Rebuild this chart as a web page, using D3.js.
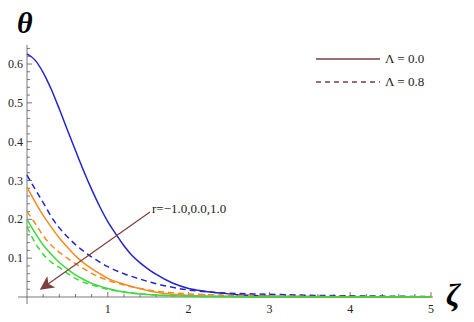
<!DOCTYPE html>
<html>
<head>
<meta charset="utf-8">
<script src="https://cdn.jsdelivr.net/npm/d3@7"></script>
<style>
  body { margin: 0; background: #fff; }
  svg { display: block; }
  text { font-family: "Liberation Serif", "Times New Roman", Times, serif; fill: #222; }
</style>
</head>
<body>
<svg id="chart" width="474" height="322"></svg>
<script>
// theta(zeta), r = -1.0 (blue), 0.0 (orange), 1.0 (green)
var zeta_blue_solid  = [0, 0.1, 0.2, 0.3, 0.4, 0.5, 0.6, 0.7, 0.8, 0.9, 1.0, 1.1, 1.2, 1.3, 1.4, 1.5, 1.6, 1.8, 2.0, 2.2, 2.4, 2.6, 2.8, 3.0, 3.5, 4.0, 5.0];
var theta_blue_solid = [0.626, 0.61, 0.578, 0.535, 0.484, 0.43, 0.377, 0.325, 0.277, 0.233, 0.194, 0.162, 0.132, 0.107, 0.088, 0.072, 0.058, 0.036, 0.022, 0.015, 0.01, 0.006, 0.004, 0.002, 0.001, 0, 0];

var zeta_blue_dash  = [0, 0.1, 0.2, 0.3, 0.4, 0.5, 0.6, 0.7, 0.8, 0.9, 1.0, 1.2, 1.4, 1.6, 1.8, 2.0, 2.4, 2.8, 3.2, 3.6, 4.0, 4.5, 5.0];
var theta_blue_dash = [0.314, 0.278, 0.243, 0.207, 0.178, 0.155, 0.135, 0.118, 0.103, 0.09, 0.078, 0.06, 0.046, 0.034, 0.025, 0.018, 0.011, 0.008, 0.006, 0.004, 0.003, 0.002, 0.001];

var zeta_orange_solid  = [0, 0.1, 0.2, 0.3, 0.4, 0.5, 0.6, 0.7, 0.8, 0.9, 1.0, 1.2, 1.4, 1.6, 1.8, 2.0, 2.5, 3.0, 5.0];
var theta_orange_solid = [0.283, 0.245, 0.21, 0.18, 0.152, 0.128, 0.106, 0.088, 0.073, 0.06, 0.048, 0.033, 0.021, 0.012, 0.007, 0.004, 0.001, 0, 0];

var zeta_orange_dash  = [0, 0.1, 0.2, 0.3, 0.4, 0.5, 0.6, 0.7, 0.8, 0.9, 1.0, 1.2, 1.4, 1.6, 1.8, 2.0, 2.4, 2.8, 3.2, 4.0, 5.0];
var theta_orange_dash = [0.22, 0.19, 0.158, 0.133, 0.115, 0.1, 0.086, 0.073, 0.061, 0.051, 0.043, 0.031, 0.022, 0.015, 0.011, 0.008, 0.005, 0.003, 0.002, 0.001, 0];

var zeta_green_solid  = [0, 0.1, 0.2, 0.3, 0.4, 0.5, 0.6, 0.7, 0.8, 0.9, 1.0, 1.2, 1.4, 1.6, 1.8, 2.0, 2.5, 3.0, 5.0];
var theta_green_solid = [0.2, 0.165, 0.134, 0.11, 0.089, 0.072, 0.057, 0.045, 0.035, 0.028, 0.022, 0.013, 0.008, 0.005, 0.003, 0.002, 0.001, 0, 0];

var zeta_green_dash  = [0, 0.1, 0.2, 0.3, 0.4, 0.5, 0.6, 0.7, 0.8, 0.9, 1.0, 1.2, 1.4, 1.6, 1.8, 2.0, 2.5, 3.0, 5.0];
var theta_green_dash = [0.18, 0.14, 0.11, 0.09, 0.076, 0.061, 0.048, 0.038, 0.031, 0.025, 0.02, 0.013, 0.008, 0.005, 0.003, 0.002, 0.001, 0, 0];

var x_ticks = [1, 2, 3, 4, 5];
var y_ticks = [0.1, 0.2, 0.3, 0.4, 0.5, 0.6];
var legend_labels = ['\u039B = 0.0', '\u039B = 0.8'];
var arrow_label = 'r=\u22121.0,0.0,1.0';

/**************************************************************************************/

var svg = d3.select('#chart');
var x = d3.scaleLinear().domain([0, 5]).range([27, 431]);
var y = d3.scaleLinear().domain([0, 0.6]).range([297, 64]);

var blue = '#2424cc', orange = '#f28a26', green = '#3cd83c', brown = '#7d3e3e';

// minor ticks every 0.2 on x and 0.02 on y
var x_minor = d3.range(0.2, 5.01, 0.2);
var y_minor = d3.range(0.02, 0.641, 0.02);

var axes = svg.append('g').attr('stroke', '#555').attr('stroke-width', 0.8);
axes.append('line').attr('x1', 18).attr('x2', 433).attr('y1', y(0)).attr('y2', y(0));
axes.append('line').attr('x1', x(0)).attr('x2', x(0)).attr('y1', 45).attr('y2', 304);

axes.selectAll('.xt').data(x_minor).enter().append('line')
    .attr('x1', function(d){ return x(d); }).attr('x2', function(d){ return x(d); })
    .attr('y1', y(0)).attr('y2', function(d){ return Math.abs(d - Math.round(d)) < 1e-6 ? y(0) - 5 : y(0) - 3; });

axes.selectAll('.yt').data(y_minor).enter().append('line')
    .attr('y1', function(d){ return y(d); }).attr('y2', function(d){ return y(d); })
    .attr('x1', x(0)).attr('x2', function(d){ return Math.abs(d*10 - Math.round(d*10)) < 1e-6 ? x(0) + 5 : x(0) + 3; });

svg.selectAll('.xl').data(x_ticks).enter().append('text')
    .attr('x', function(d){ return x(d); }).attr('y', 313)
    .attr('text-anchor', 'middle').attr('font-size', 12)
    .text(function(d){ return d; });

svg.selectAll('.yl').data(y_ticks).enter().append('text')
    .attr('x', 23).attr('y', function(d){ return y(d) + 4; })
    .attr('text-anchor', 'end').attr('font-size', 12)
    .text(function(d){ return d.toFixed(1); });

svg.append('text').attr('x', 17).attr('y', 33)
    .attr('font-size', 30).attr('font-weight', 'bold').attr('font-style', 'italic')
    .style('fill', '#000')
    .text('\u03B8');
svg.append('text').attr('x', 446).attr('y', 306)
    .attr('font-size', 32).attr('font-weight', 'bold').attr('font-style', 'italic')
    .style('fill', '#000')
    .text('\u03B6');

/**************************************************************************************/

var line = d3.line()
    .x(function(d){ return x(d[0]); })
    .y(function(d){ return y(d[1]); })
    .curve(d3.curveMonotoneX);

var curves = [
    { zx: zeta_blue_solid,   zy: theta_blue_solid,   color: blue,   dash: null },
    { zx: zeta_blue_dash,    zy: theta_blue_dash,    color: blue,   dash: '6,4' },
    { zx: zeta_orange_solid, zy: theta_orange_solid, color: orange, dash: null },
    { zx: zeta_orange_dash,  zy: theta_orange_dash,  color: orange, dash: '6,4' },
    { zx: zeta_green_solid,  zy: theta_green_solid,  color: green,  dash: null },
    { zx: zeta_green_dash,   zy: theta_green_dash,   color: green,  dash: '6,4' }
];

curves.forEach(function(c){
    var pts = c.zx.map(function(v, i){ return [v, c.zy[i]]; });
    svg.append('path')
        .attr('d', line(pts))
        .attr('fill', 'none').attr('stroke', c.color).attr('stroke-width', 1.5)
        .attr('stroke-dasharray', c.dash);
});

/**************************************************************************************/

// arrow
var defs = svg.append('defs');
defs.append('marker').attr('id', 'head')
    .attr('viewBox', '0 0 10 10').attr('refX', 9).attr('refY', 5)
    .attr('markerWidth', 17).attr('markerHeight', 14).attr('markerUnits', 'userSpaceOnUse')
    .attr('orient', 'auto')
    .append('path').attr('d', 'M 0 0 L 10 5 L 0 10 L 2.5 5 z').attr('fill', brown);

svg.append('line').attr('x1', 150).attr('y1', 212).attr('x2', 41).attr('y2', 289)
    .attr('stroke', brown).attr('stroke-width', 1.2).attr('marker-end', 'url(#head)');

svg.append('text').attr('x', 152).attr('y', 213).attr('font-size', 13)
    .text(arrow_label);

// legend
legend_labels.forEach(function(t, i){
    var ly = 59 + i*23;
    svg.append('line').attr('x1', 316).attr('x2', 380).attr('y1', ly).attr('y2', ly)
        .attr('stroke', brown).attr('stroke-width', 1.3)
        .attr('stroke-dasharray', i == 1 ? '5,4' : null);
    svg.append('text').attr('x', 385).attr('y', ly + 4).attr('font-size', 13)
        .text(t);
});
</script>
</body>
</html>
